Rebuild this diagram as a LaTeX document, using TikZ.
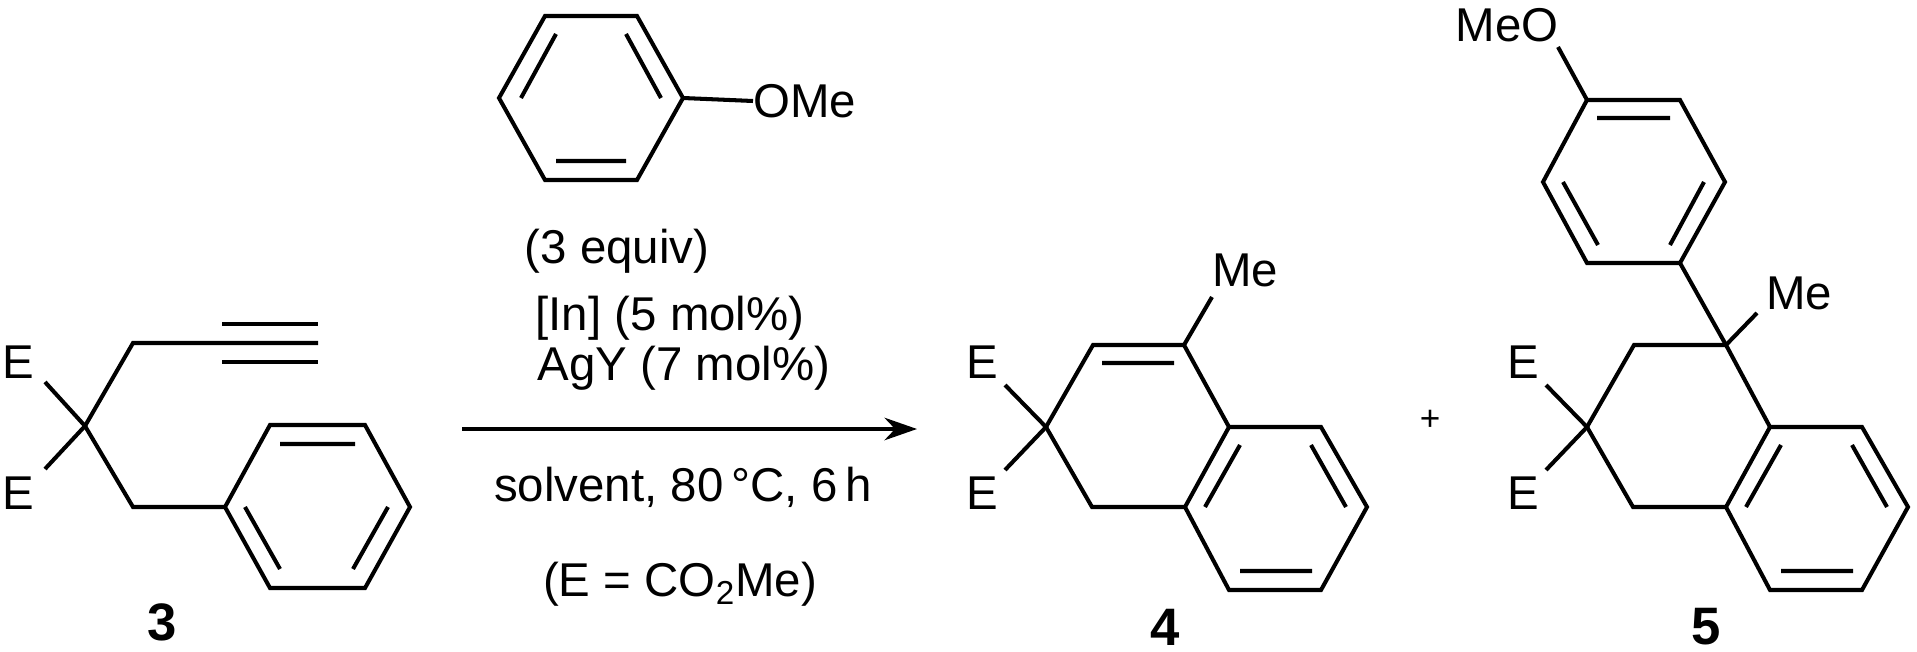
\documentclass[tikz,border=0pt]{standalone}
\usepackage{fontspec}
\setmainfont{Liberation Sans}
\usetikzlibrary{arrows.meta}
\begin{document}
\begin{tikzpicture}[x=0.02cm,y=-0.02cm,
  bond/.style={line width=2.3pt,line join=miter},
  lbl/.style={inner sep=0pt,font=\fontsize{27}{31}\selectfont},
  num/.style={inner sep=0pt,font=\fontsize{30}{34}\selectfont\bfseries}]
\useasboundingbox (0,0) rectangle (1917,652);
% ---------- compound 3
\coordinate (a1) at (85,426);
\coordinate (a2) at (133,343);
\coordinate (a3) at (318,343);
\coordinate (a4) at (133,507);
\coordinate (r1) at (225,507);
\coordinate (r2) at (270,425);
\coordinate (r3) at (365,425);
\coordinate (r4) at (410,507);
\coordinate (r5) at (365,588);
\coordinate (r6) at (270,588);
\node[lbl] (e1) at (18,362) {E};
\node[lbl] (e2) at (18,493) {E};
\coordinate (e1b) at (45,382);
\coordinate (e2b) at (45,469);
\draw[bond] (e1b)--(a1)--(e2b);
\draw[bond] (a3)--(a2)--(a1)--(a4)--(r1);
\draw[bond] (222,324)--(318,324) (222,362)--(318,362);
\draw[bond] (r1)--(r2)--(r3)--(r4)--(r5)--(r6)--cycle;
\draw[bond] (280,444)--(355,444) (245,507)--(280,569) (388,507)--(353,569);
\node[num] (n3) at (162,622) {3};
% ---------- anisole
\coordinate (s1) at (545,16);
\coordinate (s2) at (637,16);
\coordinate (s3) at (683,98);
\coordinate (s4) at (637,180);
\coordinate (s5) at (545,180);
\coordinate (s6) at (499,98);
\draw[bond] (s1)--(s2)--(s3)--(s4)--(s5)--(s6)--cycle;
\draw[bond] (556,34)--(521,98) (626,34)--(661,98) (556,161)--(626,161);
\node[lbl,anchor=west] (ome) at (753,101) {OMe};
\draw[bond] (s3)--(ome.west);
% ---------- conditions
\node[lbl] (c1) at (617,251) {(3 equiv)};
\node[lbl] (c2) at (670,318) {[In] (5 mol\%)};
\node[lbl] (c3) at (684,368) {AgY (7 mol\%)};
\coordinate (arS) at (462,429);
\coordinate (arE) at (917,429);
\draw[line width=2.3pt,-{Stealth[length=0.65cm,width=0.45cm]}] (arS)--(arE);
\node[lbl] (c4) at (683,487) {solvent, 80\,°C, 6\,h};
\node[lbl] (c5) at (680,584) {(E = CO$_{\mathrm{2}}$Me)};
% ---------- compound 4
\begin{scope}[shift={(961,0)}]
\coordinate (b1) at (85,427);
\coordinate (b2) at (132,345);
\coordinate (b3) at (223,345);
\coordinate (b4) at (268,427);
\coordinate (b5) at (360,427);
\coordinate (b6) at (406,507);
\coordinate (b7) at (360,590);
\coordinate (b8) at (268,590);
\coordinate (b9) at (224,507);
\coordinate (b10) at (131,507);
\coordinate (bm) at (251,297);
\coordinate (f1) at (44,385);
\coordinate (f2) at (44,470);
\draw[bond] (f1)--(b1)--(f2);
\draw[bond] (b1)--(b2)--(b3)--(b4)--(b5)--(b6)--(b7)--(b8)--(b9)--(b10)--cycle;
\draw[bond] (b4)--(b9) (b3)--(bm);
\draw[bond] (141,363)--(213,363) (279,445)--(244,507) (350,445)--(385,507) (279,571)--(351,571);
\end{scope}
\node[lbl] (e3) at (982,362) {E};
\node[lbl] (e4) at (982,493) {E};
\node[lbl] (me4) at (1245,270) {Me};
\node[num] (n4) at (1165,627) {4};
\node[font=\fontsize{20}{24}\selectfont,inner sep=0pt] (plus) at (1430,420) {+};
% ---------- compound 5
\begin{scope}[shift={(1502,0)}]
\coordinate (c1p) at (85,427);
\coordinate (c2p) at (132,345);
\coordinate (c3p) at (224,345);
\coordinate (c4p) at (268,427);
\coordinate (c5p) at (360,427);
\coordinate (c6p) at (406,507);
\coordinate (c7p) at (360,590);
\coordinate (c8p) at (268,590);
\coordinate (c9p) at (224,507);
\coordinate (c10p) at (131,507);
\coordinate (cm) at (255,313);
\coordinate (g1) at (44,385);
\coordinate (g2) at (44,470);
\draw[bond] (g1)--(c1p)--(g2);
\draw[bond] (c1p)--(c2p)--(c3p)--(c4p)--(c5p)--(c6p)--(c7p)--(c8p)--(c9p)--(c10p)--cycle;
\draw[bond] (c4p)--(c9p) (c3p)--(cm);
\draw[bond] (279,445)--(244,507) (350,445)--(385,507) (279,571)--(351,571);
% aryl ring
\coordinate (p1) at (85,100);
\coordinate (p2) at (178,100);
\coordinate (p3) at (223,182);
\coordinate (p4) at (178,263);
\coordinate (p5) at (85,263);
\coordinate (p6) at (41,182);
\draw[bond] (p1)--(p2)--(p3)--(p4)--(p5)--(p6)--cycle;
\draw[bond] (p4)--(c3p);
\draw[bond] (95,118)--(168,118) (61,182)--(96,245) (202,182)--(168,245);
\coordinate (po) at (56,47);
\draw[bond] (p1)--(po);
\end{scope}
\node[lbl] (e5) at (1523,362) {E};
\node[lbl] (e6) at (1523,493) {E};
\node[lbl] (me5) at (1799,293) {Me};
\node[lbl] (meo) at (1507,25) {MeO};
\node[num] (n5) at (1706,627) {5};
\end{tikzpicture}
\end{document}
